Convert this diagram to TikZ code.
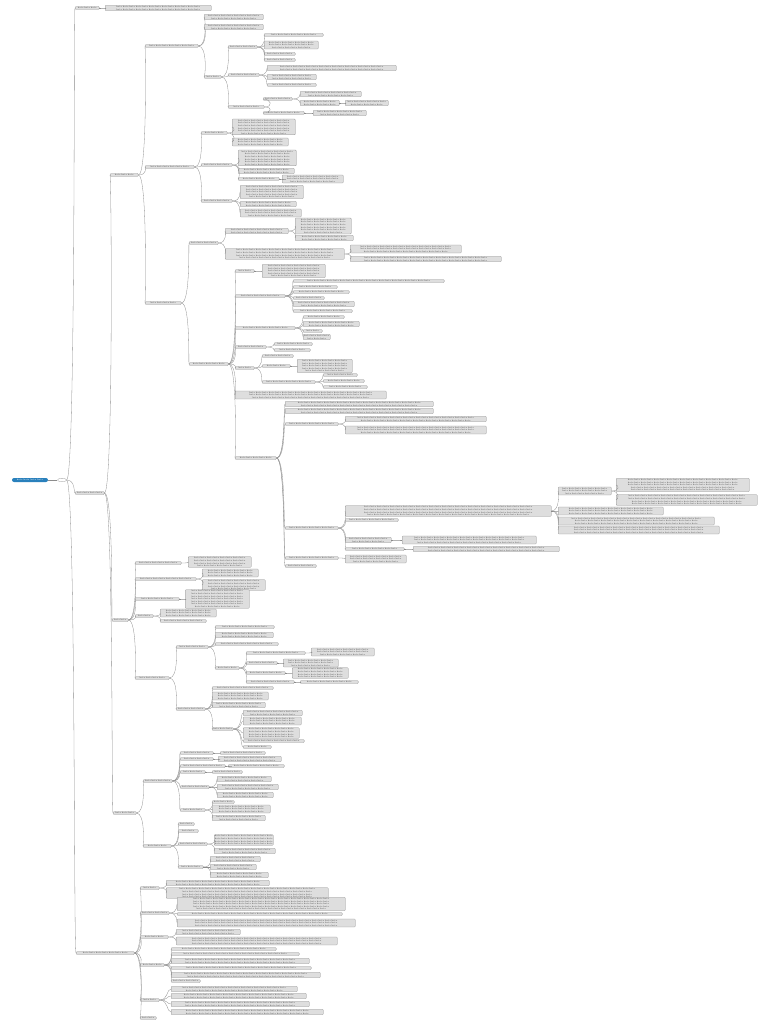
\documentclass[tikz,border=0pt]{standalone}
\usetikzlibrary{shapes.geometric,calc}
\newcount\wc
\newcommand\ww[1]{\wc=#1\relax\ifnum\wc<1 \wc=1 \fi\loop\ifnum\wc>0 kata\advance\wc-1 \ifnum\wc>0 \space\fi\repeat}
\tikzset{
 bxs/.style={draw=black!45,fill=black!13,rounded corners=0.8pt,line width=0.25pt,inner xsep=0.6pt,inner ysep=0.6pt,align=center,font=\fontsize{2.2}{2.6}\selectfont,text=black!70},
 cn/.style={draw=black!45,line width=0.3pt}
}
\newcommand\bx[6]{%
 \node[bxs,text width=#4pt,anchor=west] (#1) at (#2,#3) {\ww{\numexpr(#4*#6)/8\relax}};
 \draw[cn] (#5.east) .. controls ($(#5.east)+(9,0)$) and ($(#5.east |- #1.west)+(7,0)$) .. (#1.west);}
\begin{document}
\begin{tikzpicture}[x=1pt,y=-1pt]
\useasboundingbox (0,0) rectangle (768,1024);
\node[fill=cyan!70!blue!85!black,rounded corners=2pt,minimum width=36pt,minimum height=4pt,inner sep=0pt,text=white,font=\fontsize{2.2}{2.6}\selectfont] (root) at (30,480) {kata kata kata kata};
\node[draw=black!45,fill=white,ellipse,minimum width=9pt,minimum height=3.5pt,inner sep=0pt,line width=0.25pt] (hub) at (62,480) {};
\draw[cn] (root.east) -- (hub.west);
\bx{A}{75}{8}{23}{hub}{1}
\bx{A1}{105}{8}{105}{A}{2}
\bx{C}{75}{493}{28}{hub}{1}
\bx{F}{76}{953}{57}{hub}{1}
\bx{B}{110}{175}{27}{C}{1}
\bx{D}{112}{620}{15}{C}{1}
\bx{E}{113}{813}{22}{C}{1}
\bx{B1}{145}{46}{52}{B}{1}
\bx{B2}{145}{167}{48}{B}{1}
\bx{B3}{145}{303}{35}{B}{1}
\bx{B1a}{204}{17}{58}{B1}{2}
\bx{B1b}{204}{27}{58}{B1}{2}
\bx{B1c}{204}{77}{16}{B1}{1}
\bx{U1}{228}{47}{28}{B1c}{1}
\bx{U2}{228}{75}{30}{B1c}{1}
\bx{U3}{228}{107}{35}{B1c}{1}
\bx{U1a}{264}{35}{58}{U1}{1}
\bx{U1b}{264}{45}{53}{U1}{3}
\bx{U1c}{264}{54}{30}{U1}{1}
\bx{U1d}{264}{60}{30}{U1}{1}
\bx{U2a}{267}{68}{128}{U2}{2}
\bx{U2b}{267}{77}{48}{U2}{2}
\bx{U2c}{267}{85}{48}{U2}{1}
\bx{U3a}{263}{99}{28}{U3}{1}
\bx{U3b}{263}{113}{40}{U3}{1}
\bx{U3a1}{300}{94}{60}{U3a}{2}
\bx{U3a2}{300}{103}{38}{U3a}{2}
\bx{U3a2x}{345}{103}{42}{U3a2}{2}
\bx{U3b1}{313}{113}{52}{U3b}{2}
\bx{P1}{201}{133}{25}{B2}{1}
\bx{P2}{201}{165}{30}{B2}{1}
\bx{P3}{201}{201}{30}{B2}{1}
\bx{P1a}{232}{127}{62}{P1}{6}
\bx{P1b}{232}{142}{55}{P1}{3}
\bx{P2a}{238}{158}{57}{P2}{6}
\bx{P2b}{238}{171}{55}{P2}{2}
\bx{P2c}{238}{179}{40}{P2}{1}
\bx{P2c1}{282}{179}{60}{P2c}{3}
\bx{P3a}{240}{192}{62}{P3}{5}
\bx{P3b}{240}{204}{55}{P3}{2}
\bx{P3c}{240}{213}{60}{P3}{3}
\bx{K1}{189}{243}{28}{B3}{1}
\bx{K2}{189}{364}{38}{B3}{1}
\bx{K1a}{225}{231}{62}{K1}{2}
\bx{K1b}{225}{254}{118}{K1}{4}
\bx{K1a1}{295}{226}{55}{K1a}{6}
\bx{K1a2}{295}{238}{57}{K1a}{2}
\bx{K1b1}{350}{249}{110}{K1b}{3}
\bx{K1b2}{350}{259}{150}{K1b}{2}
\bx{S1}{235}{271}{18}{K2}{1}
\bx{S1a}{262}{271}{62}{S1}{5}
\bx{S2}{235}{296}{49}{K2}{1}
\bx{S2a}{293}{281}{150}{S2}{1}
\bx{S2b}{293}{287}{43}{S2}{1}
\bx{S2c}{293}{292}{55}{S2}{1}
\bx{S2d}{293}{298}{30}{S2}{1}
\bx{S2e}{293}{304}{60}{S2}{2}
\bx{S2f}{293}{311}{58}{S2}{1}
\bx{S3}{235}{328}{59}{K2}{1}
\bx{S3a}{303}{317}{40}{S3}{1}
\bx{S3b}{303}{324}{55}{S3}{2}
\bx{S3c}{303}{331}{18}{S3}{1}
\bx{S3d}{303}{337}{26}{S3}{2}
\bx{S4}{235}{347}{30}{K2}{1}
\bx{S4a}{274}{344}{37}{S4}{1}
\bx{S4b}{274}{350}{35}{S4}{1}
\bx{S5}{235}{368}{18}{K2}{1}
\bx{S5a}{262}{356}{30}{S5}{1}
\bx{S5b}{262}{366}{27}{S5}{1}
\bx{S5b1}{297}{366}{54}{S5b}{5}
\bx{S5c}{262}{382}{52}{S5}{1}
\bx{S5c1}{323}{375}{33}{S5c}{1}
\bx{S5c2}{323}{381}{40}{S5c}{1}
\bx{S5c3}{323}{387}{43}{S5c}{1}
\bx{S6}{235}{395}{150}{K2}{3}
\bx{S7}{235}{458}{40}{K2}{1}
\bx{T1}{285}{404}{147}{S7}{2}
\bx{T2}{285}{411}{147}{S7}{2}
\bx{T3}{285}{424}{52}{S7}{1}
\bx{T3a}{345}{419}{140}{T3}{2}
\bx{T3b}{345}{430}{140}{T3}{3}
\bx{T4}{285}{528}{52}{S7}{1}
\bx{T4a}{345}{511}{205}{T4}{4}
\bx{T4b}{345}{520}{52}{T4}{1}
\bx{T4c}{345}{540}{45}{T4}{2}
\bx{T4c1}{402}{540}{133}{T4c}{3}
\bx{T4d}{345}{549}{58}{T4}{1}
\bx{T4d1}{413}{549}{145}{T4d}{2}
\bx{T4a1}{558}{491}{52}{T4a}{3}
\bx{T4a2}{558}{511}{104}{T4a}{3}
\bx{T4a3}{558}{521}{155}{T4a}{3}
\bx{T4a4}{558}{530}{160}{T4a}{3}
\bx{T4a1a}{616}{485}{132}{T4a1}{5}
\bx{T4a1b}{616}{500}{140}{T4a1}{4}
\bx{T5}{285}{558}{52}{S7}{1}
\bx{T5a}{345}{559}{60}{T5}{3}
\bx{T6}{285}{566}{30}{S7}{1}
\bx{D1}{135}{563}{45}{D}{1}
\bx{D1a}{188}{562}{62}{D1}{4}
\bx{D2}{135}{579}{60}{D}{1}
\bx{D2a}{202}{573}{55}{D2}{3}
\bx{D2b}{202}{585}{62}{D2}{4}
\bx{D3}{135}{599}{43}{D}{1}
\bx{D3a}{185}{599}{63}{D3}{7}
\bx{D4}{135}{616}{17}{D}{1}
\bx{D4a}{160}{613}{55}{D4}{3}
\bx{D4b}{160}{621}{45}{D4}{1}
\bx{D5}{135}{678}{33}{D}{1}
\bx{M1}{176}{647}{31}{D5}{1}
\bx{M1a}{215}{627}{58}{M1}{1}
\bx{M1b}{215}{635}{57}{M1}{2}
\bx{M1c}{215}{644}{62}{M1}{1}
\bx{M1d}{215}{668}{23}{M1}{1}
\bx{M1d1}{246}{653}{58}{M1d}{1}
\bx{M1d1x}{311}{652}{62}{M1d1}{3}
\bx{M1d2}{246}{663}{30}{M1d}{1}
\bx{M1d2x}{283}{663}{54}{M1d2}{3}
\bx{M1d3}{246}{673}{38}{M1d}{1}
\bx{M1d3x}{292}{673}{55}{M1d3}{4}
\bx{M1d4}{246}{682}{47}{M1d}{1}
\bx{M1d4x}{300}{682}{57}{M1d4}{1}
\bx{M2}{176}{709}{28}{D5}{1}
\bx{M2a}{212}{688}{60}{M2}{1}
\bx{M2b}{212}{696}{55}{M2}{3}
\bx{M2c}{212}{705}{52}{M2}{2}
\bx{M2d}{212}{729}{20}{M2}{1}
\bx{M2d1}{243}{713}{58}{M2d}{2}
\bx{M2d2}{243}{721}{57}{M2d}{3}
\bx{M2d3}{243}{733}{55}{M2d}{4}
\bx{M2d4}{243}{741}{60}{M2d}{1}
\bx{M2d5}{243}{747}{27}{M2d}{1}
\bx{G1}{143}{781}{28}{E}{1}
\bx{G1a}{180}{753}{32}{G1}{1}
\bx{G1ax}{220}{753}{44}{G1a}{1}
\bx{G1b}{180}{759}{32}{G1}{1}
\bx{G1bx}{218}{759}{62}{G1b}{2}
\bx{G1c}{180}{766}{44}{G1}{1}
\bx{G1cx}{228}{766}{55}{G1c}{1}
\bx{G1d}{180}{772}{24}{G1}{1}
\bx{G1dx}{212}{772}{29}{G1d}{1}
\bx{G1e}{180}{787}{28}{G1}{1}
\bx{G1e1}{217}{779}{53}{G1e}{2}
\bx{G1e2}{217}{787}{60}{G1e}{2}
\bx{G1e3}{217}{795}{55}{G1e}{2}
\bx{G1f}{180}{810}{24}{G1}{1}
\bx{G1f1}{212}{802}{21}{G1f}{1}
\bx{G1f2}{212}{809}{57}{G1f}{3}
\bx{G1f3}{212}{818}{52}{G1f}{2}
\bx{G2}{143}{846}{27}{E}{1}
\bx{G2a}{178}{824}{15}{G2}{1}
\bx{G2b}{178}{831}{19}{G2}{1}
\bx{G2c}{178}{844}{28}{G2}{1}
\bx{G2c1}{214}{840}{58}{G2c}{5}
\bx{G2c2}{214}{851}{60}{G2c}{2}
\bx{G2d}{178}{867}{24}{G2}{1}
\bx{G2d1}{210}{859}{49}{G2d}{2}
\bx{G2d2}{210}{867}{45}{G2d}{2}
\bx{G2d3}{210}{875}{57}{G2d}{2}
\bx{F1}{140}{888}{18}{F}{1}
\bx{F1a}{166}{883}{102}{F1}{2}
\bx{F1b}{166}{893}{161}{F1}{4}
\bx{F2}{140}{913}{28}{F}{1}
\bx{F2a}{177}{904}{167}{F2}{5}
\bx{F2b}{177}{914}{164}{F2}{1}
\bx{F2c}{177}{923}{177}{F2}{3}
\bx{F3}{140}{937}{27}{F}{1}
\bx{F3a}{176}{932}{63}{F3}{2}
\bx{F3b}{176}{941}{160}{F3}{3}
\bx{F4}{140}{965}{23}{F}{1}
\bx{F4a}{171}{949}{104}{F4}{1}
\bx{F4b}{171}{954}{127}{F4}{1}
\bx{F4c}{171}{961}{137}{F4}{2}
\bx{F4d}{171}{968}{139}{F4}{1}
\bx{F4e}{171}{975}{148}{F4}{2}
\bx{F4f}{171}{981}{28}{F4}{1}
\bx{F5}{140}{1000}{18}{F}{1}
\bx{F5a}{171}{989}{125}{F5}{2}
\bx{F5b}{171}{996}{134}{F5}{2}
\bx{F5c}{171}{1004}{137}{F5}{2}
\bx{F5d}{171}{1012}{151}{F5}{2}
\bx{F6}{140}{1018}{15}{F}{1}
\end{tikzpicture}
\end{document}
